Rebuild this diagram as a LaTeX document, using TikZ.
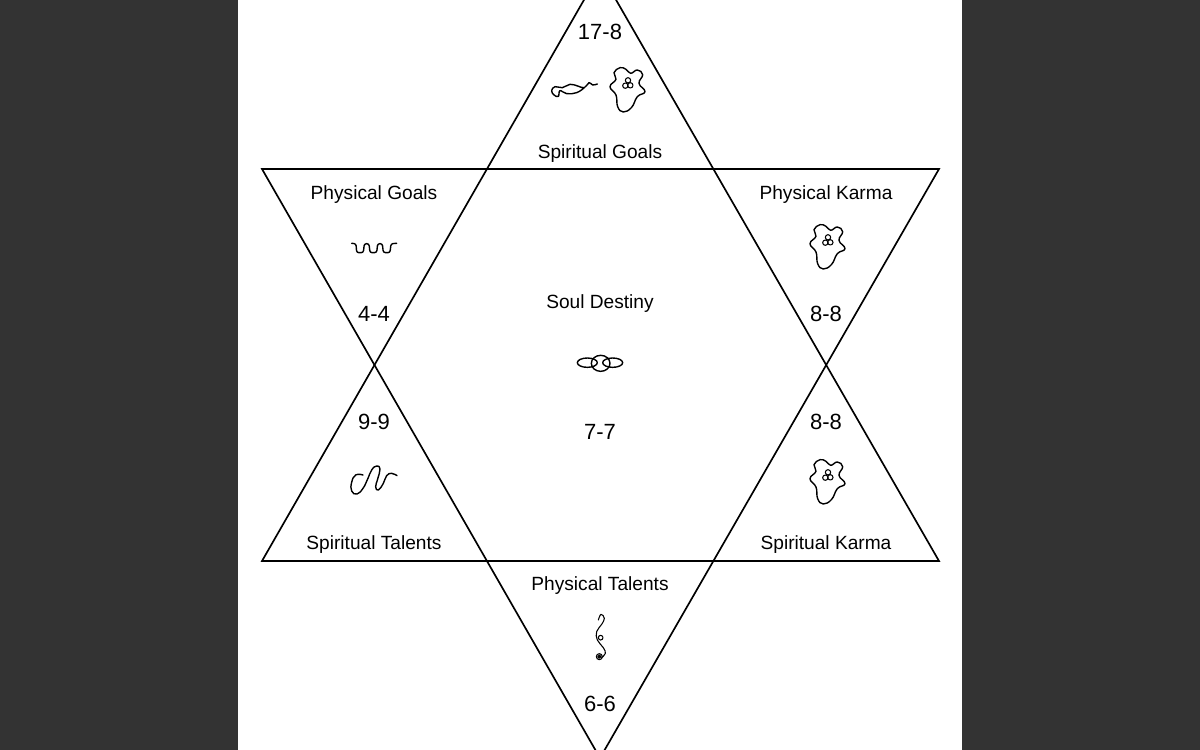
\documentclass[tikz,border=0pt]{standalone}
\usepackage{fontspec}
\setmainfont{Liberation Sans}
\tikzset{
  starline/.style={line width=1.25pt,black,line join=miter},
  glyph/.style={line width=1.05pt,black,line cap=round,line join=round},
  thinglyph/.style={line width=0.8pt,black,line cap=round,line join=round},
  lab/.style={inner sep=0pt,font=\fontsize{14.35pt}{16pt}\selectfont,text=black},
  num/.style={inner sep=0pt,font=\fontsize{16.5pt}{18pt}\selectfont,text=black},
  zoomed/.style={x=0.25pt,y=-0.25pt}
}
\newcommand{\amoeba}{%
  \draw[glyph] plot[smooth cycle,tension=0.75] coordinates {(252,68)(270,53)(288,58)(302,70)(322,60)(338,74)(327,100)(345,125)(322,140)(305,172)(280,186)(263,170)(258,135)(240,110)(258,88)};
  \draw[thinglyph] (294,91) circle (8);
  \draw[thinglyph] (286,107) circle (8);
  \draw[thinglyph] (301,106) circle (8);
}
\begin{document}
\begin{tikzpicture}[x=0.75pt,y=-0.75pt]
\useasboundingbox (0,0) rectangle (1200,750);
\fill[white] (0,0) rectangle (1200,750);
\fill[black!80] (0,0) rectangle (238,750);
\fill[black!80] (962,0) rectangle (1200,750);
\begin{scope}
\clip (238,0) rectangle (962,750);
\draw[starline] (600,-28) -- (939,561) -- (262,561) -- cycle;
\draw[starline] (600,758) -- (939,169) -- (262,169) -- cycle;
\end{scope}
% labels
\node[num] (n1) at (600,32) {17-8};
\node[lab] (t1) at (600,154) {Spiritual Goals};
\node[lab] (t2) at (374,195) {Physical Goals};
\node[lab] (t3) at (826,195) {Physical Karma};
\node[num] (n2) at (374,314) {4-4};
\node[num] (n3) at (826,314) {8-8};
\node[lab] (t4) at (600,304) {Soul Destiny};
\node[num] (n4) at (600,432) {7-7};
\node[num] (n5) at (374,422) {9-9};
\node[num] (n6) at (826,422) {8-8};
\node[lab] (t5) at (374,545) {Spiritual Talents};
\node[lab] (t6) at (826,545) {Spiritual Karma};
\node[lab] (t7) at (600,586) {Physical Talents};
\node[num] (n7) at (600,704) {6-6};
% top glyphs
\begin{scope}[shift={(530,50)},zoomed]
  \draw[glyph] plot[smooth,tension=0.7] coordinates {(202,102)(188,105)(177,98)(163,113)(143,108)(120,103)(97,113)(75,110)(65,122)(72,135)(85,139)(90,122)(110,131)(140,128)(163,113)};
  \amoeba
\end{scope}
% uuu
\begin{scope}[shift={(340,230)},zoomed]
  \draw[glyph,rounded corners=1.6pt] (35,40) -- (48,41) -- (50,68) -- (70,68) -- (73,41) -- (87,41) -- (90,68) -- (110,68) -- (113,41) -- (127,41) -- (130,68) -- (150,68) -- (153,41) -- (170,40);
\end{scope}
% links
\begin{scope}[shift={(560,340)},zoomed]
  \draw[glyph] (82,68) ellipse (30 and 14);
  \draw[glyph] (122,70) ellipse (28 and 24);
  \draw[glyph] (158,68) ellipse (30 and 14);
\end{scope}
% amoebas right
\begin{scope}[shift={(730,207)},zoomed]
  \amoeba
\end{scope}
\begin{scope}[shift={(730,442)},zoomed]
  \amoeba
\end{scope}
% snake
\begin{scope}[shift={(335,455)},zoomed]
  \draw[glyph] plot[smooth,tension=0.8] coordinates {(84,60)(62,60)(50,82)(50,108)(66,117)(84,100)(98,72)(110,45)(125,33)(135,42)(128,72)(122,95)(130,105)(145,85)(155,62)(170,55)(186,62)};
\end{scope}
% spiral
\begin{scope}[shift={(570,605)},zoomed]
  \draw[thinglyph] plot[smooth,tension=0.7] coordinates {(85,45)(93,28)(103,40)(95,58)(80,80)(82,105)(100,128)(106,145)(95,158)};
  \draw[thinglyph] (92,98) circle (7);
  \draw[thinglyph] (88,155) circle (9);
  \draw[thinglyph] (88,155) circle (5);
  \draw[thinglyph] (88,155) circle (2);
\end{scope}
\end{tikzpicture}
\end{document}
